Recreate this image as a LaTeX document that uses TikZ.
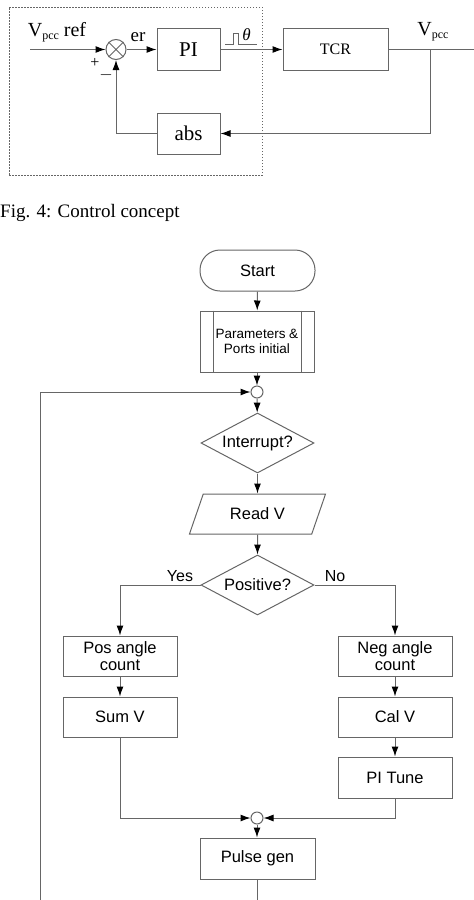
\documentclass[tikz,border=0pt]{standalone}
\usepackage{fontspec}
\setmainfont{Liberation Serif}
\newfontfamily\flowfont{Liberation Sans}
\usetikzlibrary{shapes.geometric,arrows.meta,calc}
\definecolor{lncol}{HTML}{666666}
\newcommand{\Vpcc}{V\raisebox{-0.3ex}{\fontsize{12}{12}\selectfont pcc}}
\begin{document}
\begin{tikzpicture}[x=1pt,y=-1pt,
  ln/.style={draw=lncol, line width=1pt},
  arr/.style={ln, -{Latex[length=10pt,width=7pt,color=black]}},
  blk/.style={ln, rectangle, inner sep=0pt, minimum width=63, minimum height=42},
  lbl/.style={inner sep=0pt, text=black},
  proc/.style={ln, rectangle, inner sep=0pt, minimum width=114, minimum height=40,
    align=center, font=\flowfont\fontsize{16.5}{17.5}\selectfont},
  term/.style={ln, rectangle, rounded corners=20pt, inner sep=0pt, minimum width=115,
    minimum height=41, font=\flowfont\fontsize{16.5}{17}\selectfont},
  dec/.style={ln, diamond, aspect=1.9, inner sep=0pt, minimum width=113, minimum height=60,
    font=\flowfont\fontsize{16.5}{17}\selectfont},
  io/.style={ln, trapezium, trapezium left angle=60, trapezium right angle=120,
    trapezium stretches=true, inner sep=0pt, minimum width=137, minimum height=40,
    font=\flowfont\fontsize{16.5}{17}\selectfont},
  junc/.style={ln, circle, inner sep=0pt, minimum size=12},
  flab/.style={inner sep=0pt, font=\flowfont\fontsize{16}{17}\selectfont}
]
\useasboundingbox (0,0) rectangle (474,900);

% ---------- control concept ----------
\node[draw=lncol, line width=0.8pt, dash pattern=on 1.5pt off 1.5pt, rectangle, inner sep=0pt,
  minimum width=253, minimum height=168] (ctrl) at (135.5,91) {};

\coordinate (in) at (30,49.5);
\node[ln, circle, minimum size=20, inner sep=0pt] (sum) at (116,49.5) {};
\draw[ln] (sum.45) -- (sum.225) (sum.135) -- (sum.315);
\node[blk, font=\fontsize{21}{21}\selectfont] (pi) at (188.5,49.5) {PI};
\node[blk, minimum width=105, font=\fontsize{16}{16}\selectfont] (tcr) at (335.5,49.5) {TCR};
\node[blk, minimum height=41, font=\fontsize{21}{21}\selectfont] (abs) at (188.5,133.5) {abs};
\coordinate (out) at (474,49.5);
\coordinate (br) at (430,49.5);

\draw[arr] (in) -- (sum.west);
\draw[arr] (sum.east) -- (pi.west);
\draw[arr] (pi.east) -- (tcr.west);
\draw[ln] (tcr.east) -- (out);
\draw[arr] (br) |- (abs.east);
\draw[arr] (abs.west) -| (sum.south);

\node[lbl, font=\fontsize{20}{20}\selectfont] (vref) at (57,32) {\Vpcc\ ref};
\node[lbl, font=\fontsize{19}{19}\selectfont] (er) at (138,37) {er};
\node[lbl, font=\fontsize{16}{16}\selectfont] (plus) at (95,63) {+};
\node[lbl, font=\fontsize{16}{16}\selectfont] (minus) at (106,75) {$-$};
\draw[ln, line width=0.7pt] (225,44.3) -- (233,44.3) -- (233,33.5) -- (238,33.5) -- (238,44.3) -- (257,44.3);
\node[lbl, font=\fontsize{17}{17}\selectfont\itshape] (theta) at (246.5,35) {θ};
\node[lbl, font=\fontsize{20}{20}\selectfont] (vpcc) at (433,32) {\Vpcc};

\node[lbl, anchor=west, font=\fontsize{19}{19}\selectfont] (cap) at (0,213) {Fig. 4: Control concept};

% ---------- flowchart ----------
\node[term] (start) at (257.5,270.5) {Start};
\node[proc, minimum width=114, minimum height=61, font=\flowfont\fontsize{13.5}{14.5}\selectfont] (params) at (257,341.5) {Parameters \&\\Ports initial};
\draw[ln] ($(params.north west)+(14,0)$) -- ($(params.south west)+(14,0)$);
\draw[ln] ($(params.north east)+(-13,0)$) -- ($(params.south east)+(-13,0)$);
\node[junc] (j1) at (257,392) {};
\node[dec] (intr) at (257.5,443) {Interrupt?};
\node[io] (readv) at (257.5,514) {Read V};
\node[dec] (posq) at (257.5,585) {Positive?};
\node[proc] (posc) at (120,656) {Pos angle\\count};
\node[proc] (sumv) at (120,717) {Sum V};
\node[proc] (negc) at (395,656) {Neg angle\\count};
\node[proc] (calv) at (395,717) {Cal V};
\node[proc, minimum height=41] (pitune) at (395,777.5) {PI Tune};
\node[junc] (j2) at (257,818) {};
\node[proc, minimum width=115, minimum height=41] (pulse) at (257.5,858.5) {Pulse gen};
\coordinate (pend) at (257,900);
\coordinate (loopb) at (40,900);

\node[flab] (yes) at (180,576) {Yes};
\node[flab] (no) at (335,576) {No};

\draw[arr] (start) -- (params);
\draw[arr] (params.south -| j1) -- (j1);
\draw[arr] (j1) -- (intr);
\draw[arr] (intr.south -| readv) -- (readv.north -| intr);
\draw[arr] (readv) -- (posq);
\draw[arr] (posq.west) -| (posc.north);
\draw[arr] (posq.east) -| (negc.north);
\draw[arr] (posc) -- (sumv);
\draw[arr] (negc) -- (calv);
\draw[arr] (calv) -- (pitune);
\draw[arr] (sumv.south) |- (j2.west);
\draw[arr] (pitune.south) |- (j2.east);
\draw[arr] (j2) -- (j2 |- pulse.north);
\draw[ln] (pulse.south -| pend) -- (pend);
\draw[arr] (loopb) |- (j1.west);
\end{tikzpicture}
\end{document}
